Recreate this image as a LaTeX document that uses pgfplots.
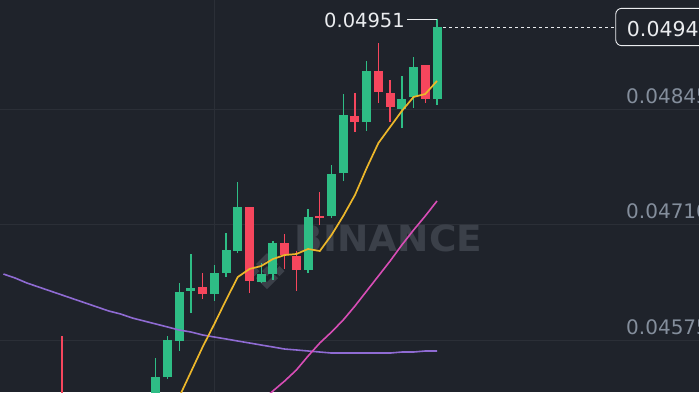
\documentclass[border=0pt]{standalone}
\usepackage{pgfplots}
\pgfplotsset{compat=1.18}
\usepackage{pgfplotstable}
\usepackage{fontspec}
\setmainfont{DejaVu Sans}
\definecolor{bgc}{HTML}{1F232B}
\definecolor{gridc}{HTML}{2B2F37}
\definecolor{up}{HTML}{2EBD85}
\definecolor{down}{HTML}{F6465D}
\definecolor{ma7}{HTML}{EDB72A}
\definecolor{ma25}{HTML}{D84DB6}
\definecolor{ma99}{HTML}{8F6BD3}
\definecolor{wm}{HTML}{3B4049}
\definecolor{lbl}{HTML}{848E9C}
\definecolor{txt}{HTML}{EAECEF}

\pgfplotstableread{
k O H L C
8 0.045046 0.045539 0.044987 0.045316
9 0.045316 0.045797 0.045292 0.045750
10 0.045738 0.046419 0.045621 0.046313
11 0.046325 0.046759 0.046067 0.046360
13 0.046290 0.046630 0.046208 0.046536
14 0.046536 0.047005 0.046489 0.046806
15 0.046794 0.047604 0.046771 0.047310
17 0.046430 0.046653 0.046419 0.046524
18 0.046524 0.046911 0.046454 0.046888
21 0.046571 0.047287 0.046536 0.047193
23 0.047205 0.047803 0.047181 0.047697
24 0.047709 0.048636 0.047615 0.048390
26 0.048307 0.049023 0.048202 0.048906
29 0.048460 0.048847 0.048237 0.048577
30 0.048601 0.049070 0.048472 0.048953
32 0.048577 0.049510 0.048507 0.049422
}\upcandles

\pgfplotstableread{
k O H L C
0 0.045046 0.045797 0.044694 0.044812
12 0.046372 0.046536 0.046231 0.046290
16 0.047310 0.047310 0.046301 0.046442
19 0.046888 0.046994 0.046583 0.046747
20 0.046735 0.046794 0.046325 0.046571
22 0.047205 0.047486 0.047099 0.047181
25 0.048378 0.048648 0.048190 0.048307
27 0.048906 0.049234 0.048530 0.048659
28 0.048648 0.048800 0.048307 0.048483
31 0.048976 0.048976 0.048530 0.048577
}\downcandles

\pgfplotstableread{
k v
9 0.044812
10 0.045081
11 0.045375
12 0.045668
13 0.045938
14 0.046219
15 0.046489
16 0.046583
17 0.046618
18 0.046700
19 0.046747
20 0.046759
21 0.046818
22 0.046794
23 0.046982
24 0.047205
25 0.047451
26 0.047768
27 0.048061
28 0.048249
29 0.048437
30 0.048601
31 0.048636
32 0.048789
}\maseven

\pgfplotstableread{
k v
16 0.044917
17 0.045034
18 0.045152
19 0.045269
20 0.045398
21 0.045562
22 0.045715
23 0.045844
24 0.045985
25 0.046149
26 0.046325
27 0.046501
28 0.046677
29 0.046865
30 0.047040
31 0.047205
32 0.047381
}\matwentyfive

\pgfplotstableread{
k v
-5 0.046524
-4 0.046477
-3 0.046419
-2 0.046372
-1 0.046325
0 0.046278
1 0.046231
2 0.046184
3 0.046137
4 0.046090
5 0.046055
6 0.046008
7 0.045973
8 0.045938
9 0.045903
10 0.045867
11 0.045844
12 0.045809
13 0.045785
14 0.045762
15 0.045738
16 0.045715
17 0.045691
18 0.045668
19 0.045644
20 0.045633
21 0.045621
22 0.045609
23 0.045597
24 0.045597
25 0.045597
26 0.045597
27 0.045597
28 0.045597
29 0.045609
30 0.045609
31 0.045621
32 0.045621
}\manninetynine

\begin{document}
\begin{tikzpicture}
\fill[bgc] (0pt,0pt) rectangle (699pt,392pt);
\clip (0pt,0pt) rectangle (699pt,392pt);
\begin{axis}[
  width=699pt, height=392pt, scale only axis,
  at={(0pt,0pt)}, anchor=south west,
  xmin=-5.2906, xmax=54.356,
  ymin=0.04513996, ymax=0.04973874,
  axis background/.style={fill=bgc},
  axis line style={draw=none},
  major tick length=0pt,
  xtick={13}, ytick={0.04575,0.0471,0.04845},
  xticklabels={}, yticklabels={},
  grid=major,
  grid style={color=gridc, line width=0.9pt},
  candle/.style={draw=none, mark=none, forget plot,
    error bars/.cd, y dir=plus, y explicit, error mark=none},
]
% watermark
\fill[wm]
  (267pt,164pt) -- (272pt,159pt) -- (267pt,154pt) -- (262pt,159pt) -- cycle
  (254.5pt,164pt) -- (259.5pt,159pt) -- (254.5pt,154pt) -- (249.5pt,159pt) -- cycle
  (279.5pt,164pt) -- (284.5pt,159pt) -- (279.5pt,154pt) -- (274.5pt,159pt) -- cycle
  (267pt,177pt) -- (278pt,166pt) -- (274.5pt,162.5pt) -- (267pt,170pt) -- (259.5pt,162.5pt) -- (256pt,166pt) -- cycle
  (267pt,141pt) -- (278pt,152pt) -- (274.5pt,155.5pt) -- (267pt,148pt) -- (259.5pt,155.5pt) -- (256pt,152pt) -- cycle;
\node[anchor=base, inner sep=0pt, text=wm, xscale=1.04,
  font=\fontsize{36}{36}\selectfont\bfseries] at (axis cs:27.86,0.046786) {BINANCE};

% wicks
\addplot[candle, error bar style={draw=up, line width=1.3pt}]
  table[x=k, y=L, y error plus expr=\thisrow{H}-\thisrow{L}] {\upcandles};
\addplot[candle, error bar style={draw=down, line width=1.3pt}]
  table[x=k, y=L, y error plus expr=\thisrow{H}-\thisrow{L}] {\downcandles};
% bodies
\addplot[candle, error bar style={draw=up, line width=9pt}]
  table[x=k, y expr={min(\thisrow{O},\thisrow{C})},
        y error plus expr={abs(\thisrow{C}-\thisrow{O})}] {\upcandles};
\addplot[candle, error bar style={draw=down, line width=9pt}]
  table[x=k, y expr={min(\thisrow{O},\thisrow{C})},
        y error plus expr={abs(\thisrow{C}-\thisrow{O})}] {\downcandles};

% moving averages
\addplot[ma99, line width=1.6pt, mark=none] table[x=k, y=v] {\manninetynine};
\addplot[ma25, line width=1.6pt, mark=none] table[x=k, y=v] {\matwentyfive};
\addplot[ma7, line width=1.7pt, mark=none] table[x=k, y=v] {\maseven};

% current price line and label
\addplot[txt, line width=0.8pt, dash pattern=on 3pt off 3pt, mark=none]
  coordinates {(32.55,0.049422) (47.25,0.049422)};
\draw[txt, line width=0.9pt, fill=bgc, rounded corners=6pt]
  (axis cs:47.25,0.049203) rectangle (axis cs:57,0.049641);
\node[anchor=base west, inner sep=0pt, text=txt, font=\fontsize{20.5}{20.5}\selectfont]
  at (axis cs:48.19,0.049316) {0.04942};

% high label
\draw[txt, line width=0.9pt] (axis cs:29.44,0.049510) -- (axis cs:32,0.049510);
\node[anchor=base east, inner sep=0pt, text=txt, font=\fontsize{19.5}{19.5}\selectfont]
  at (axis cs:29.27,0.049418) {0.04951};

% price scale labels
\node[anchor=base west, inner sep=0pt, text=lbl, font=\fontsize{20}{20}\selectfont]
  at (axis cs:48.13,0.048530) {0.04845};
\node[anchor=base west, inner sep=0pt, text=lbl, font=\fontsize{20}{20}\selectfont]
  at (axis cs:48.13,0.047181) {0.04710};
\node[anchor=base west, inner sep=0pt, text=lbl, font=\fontsize{20}{20}\selectfont]
  at (axis cs:48.13,0.045809) {0.04575};
\end{axis}
\end{tikzpicture}
\end{document}
